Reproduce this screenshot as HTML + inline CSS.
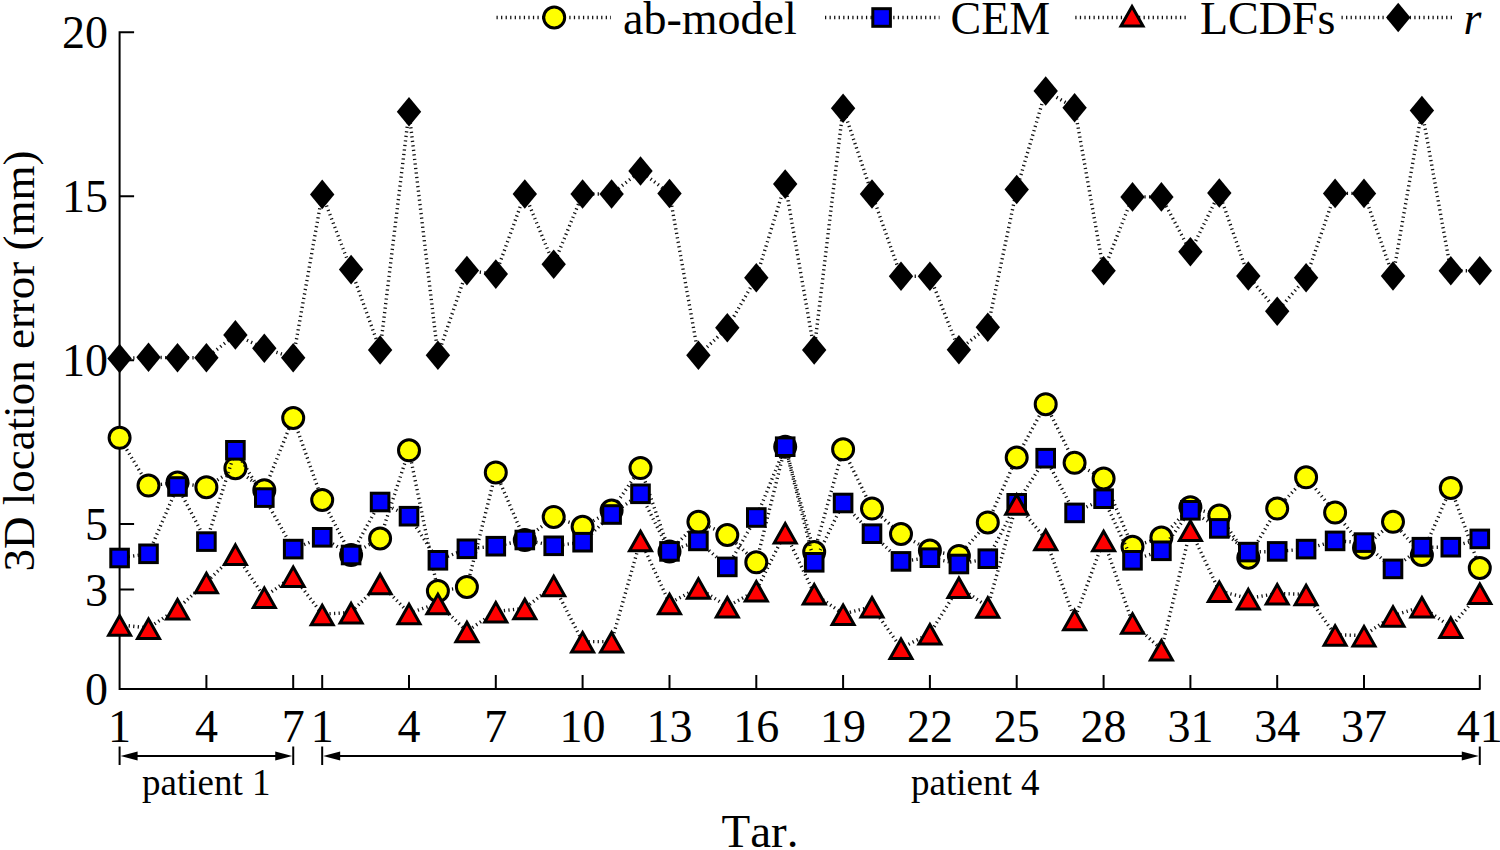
<!DOCTYPE html><html><head><meta charset="utf-8"><style>html,body{margin:0;padding:0;background:#fff;}svg{display:block;}text{font-family:"Liberation Serif",serif;fill:#000;font-kerning:none;}</style></head><body>
<svg width="1500" height="850" viewBox="0 0 1500 850">
<rect width="1500" height="850" fill="#fff"/>
<path d="M119.6 31.2V689H1480.6 M119.6 32.2H134.1 M119.6 196.2H134.1 M119.6 360.2H134.1 M119.6 523.9H134.1 M119.6 589.4H134.1 M206.4 689V675 M293.2 689V675 M322.2 689V675 M409.0 689V675 M495.8 689V675 M582.6 689V675 M669.5 689V675 M756.3 689V675 M843.1 689V675 M929.9 689V675 M1016.7 689V675 M1103.6 689V675 M1190.4 689V675 M1277.2 689V675 M1364.0 689V675 M1479.8 689V675" fill="none" stroke="#000" stroke-width="2"/>
<text x="108" y="47.7" font-size="46" text-anchor="end">20</text>
<text x="108" y="211.9" font-size="46" text-anchor="end">15</text>
<text x="108" y="376.1" font-size="46" text-anchor="end">10</text>
<text x="108" y="540.3" font-size="46" text-anchor="end">5</text>
<text x="108" y="606.0" font-size="46" text-anchor="end">3</text>
<text x="108" y="704.5" font-size="46" text-anchor="end">0</text>
<text x="119.6" y="742" font-size="46" text-anchor="middle">1</text>
<text x="206.4" y="742" font-size="46" text-anchor="middle">4</text>
<text x="293.2" y="742" font-size="46" text-anchor="middle">7</text>
<text x="322.2" y="742" font-size="46" text-anchor="middle">1</text>
<text x="409.0" y="742" font-size="46" text-anchor="middle">4</text>
<text x="495.8" y="742" font-size="46" text-anchor="middle">7</text>
<text x="582.6" y="742" font-size="46" text-anchor="middle">10</text>
<text x="669.5" y="742" font-size="46" text-anchor="middle">13</text>
<text x="756.3" y="742" font-size="46" text-anchor="middle">16</text>
<text x="843.1" y="742" font-size="46" text-anchor="middle">19</text>
<text x="929.9" y="742" font-size="46" text-anchor="middle">22</text>
<text x="1016.7" y="742" font-size="46" text-anchor="middle">25</text>
<text x="1103.6" y="742" font-size="46" text-anchor="middle">28</text>
<text x="1190.4" y="742" font-size="46" text-anchor="middle">31</text>
<text x="1277.2" y="742" font-size="46" text-anchor="middle">34</text>
<text x="1364.0" y="742" font-size="46" text-anchor="middle">37</text>
<text x="1479.8" y="742" font-size="46" text-anchor="middle">41</text>
<path d="M119.6 746.5V765M293.24 746.5V765M129.6 756H283.24" fill="none" stroke="#000" stroke-width="2"/><path d="M120.6 756l17 -4.5v9z M292.24 756l-17 -4.5v9z" fill="#000"/>
<path d="M322.18 746.5V765M1479.78 746.5V765M332.18 756H1469.78" fill="none" stroke="#000" stroke-width="2"/><path d="M323.18 756l17 -4.5v9z M1478.78 756l-17 -4.5v9z" fill="#000"/>
<text x="142" y="794.5" font-size="37">patient 1</text>
<text x="911" y="795" font-size="37">patient 4</text>
<text x="721.5" y="846.5" font-size="47">Tar.</text>
<text transform="translate(34 361) rotate(-90)" font-size="45" text-anchor="middle">3D location error (mm)</text>
<polyline points="119.6,437.8 148.5,485.6 177.5,482.6 206.4,487.2 235.4,468.2 264.3,490.2 293.2,418.0 322.2,500.0 351.1,555.0 380.1,538.5 409.0,450.3 437.9,591.0 466.9,587.0 495.8,472.4 524.8,540.0 553.7,516.9 582.6,526.8 611.6,510.6 640.5,468.1 669.5,551.4 698.4,521.8 727.3,535.0 756.3,562.3 785.2,446.7 814.2,552.0 843.1,449.3 872.0,508.6 901.0,534.0 929.9,550.6 958.9,555.9 987.8,522.4 1016.7,457.5 1045.7,404.2 1074.6,462.8 1103.6,478.5 1132.5,546.8 1161.4,537.6 1190.4,507.3 1219.3,515.5 1248.3,557.7 1277.2,508.6 1306.1,477.3 1335.1,512.6 1364.0,547.8 1393.0,521.8 1421.9,555.0 1450.8,487.9 1479.8,568.0" fill="none" stroke="#111" stroke-width="3.4" stroke-dasharray="1.25 3.3"/>
<g fill="#ffff00" stroke="#000" stroke-width="3"><circle cx="119.6" cy="437.8" r="10.5"/><circle cx="148.5" cy="485.6" r="10.5"/><circle cx="177.5" cy="482.6" r="10.5"/><circle cx="206.4" cy="487.2" r="10.5"/><circle cx="235.4" cy="468.2" r="10.5"/><circle cx="264.3" cy="490.2" r="10.5"/><circle cx="293.2" cy="418.0" r="10.5"/><circle cx="322.2" cy="500.0" r="10.5"/><circle cx="351.1" cy="555.0" r="10.5"/><circle cx="380.1" cy="538.5" r="10.5"/><circle cx="409.0" cy="450.3" r="10.5"/><circle cx="437.9" cy="591.0" r="10.5"/><circle cx="466.9" cy="587.0" r="10.5"/><circle cx="495.8" cy="472.4" r="10.5"/><circle cx="524.8" cy="540.0" r="10.5"/><circle cx="553.7" cy="516.9" r="10.5"/><circle cx="582.6" cy="526.8" r="10.5"/><circle cx="611.6" cy="510.6" r="10.5"/><circle cx="640.5" cy="468.1" r="10.5"/><circle cx="669.5" cy="551.4" r="10.5"/><circle cx="698.4" cy="521.8" r="10.5"/><circle cx="727.3" cy="535.0" r="10.5"/><circle cx="756.3" cy="562.3" r="10.5"/><circle cx="785.2" cy="446.7" r="10.5"/><circle cx="814.2" cy="552.0" r="10.5"/><circle cx="843.1" cy="449.3" r="10.5"/><circle cx="872.0" cy="508.6" r="10.5"/><circle cx="901.0" cy="534.0" r="10.5"/><circle cx="929.9" cy="550.6" r="10.5"/><circle cx="958.9" cy="555.9" r="10.5"/><circle cx="987.8" cy="522.4" r="10.5"/><circle cx="1016.7" cy="457.5" r="10.5"/><circle cx="1045.7" cy="404.2" r="10.5"/><circle cx="1074.6" cy="462.8" r="10.5"/><circle cx="1103.6" cy="478.5" r="10.5"/><circle cx="1132.5" cy="546.8" r="10.5"/><circle cx="1161.4" cy="537.6" r="10.5"/><circle cx="1190.4" cy="507.3" r="10.5"/><circle cx="1219.3" cy="515.5" r="10.5"/><circle cx="1248.3" cy="557.7" r="10.5"/><circle cx="1277.2" cy="508.6" r="10.5"/><circle cx="1306.1" cy="477.3" r="10.5"/><circle cx="1335.1" cy="512.6" r="10.5"/><circle cx="1364.0" cy="547.8" r="10.5"/><circle cx="1393.0" cy="521.8" r="10.5"/><circle cx="1421.9" cy="555.0" r="10.5"/><circle cx="1450.8" cy="487.9" r="10.5"/><circle cx="1479.8" cy="568.0" r="10.5"/></g>
<polyline points="119.6,558.0 148.5,553.8 177.5,486.5 206.4,541.6 235.4,450.3 264.3,497.6 293.2,549.1 322.2,537.3 351.1,555.0 380.1,502.0 409.0,516.2 437.9,560.3 466.9,548.8 495.8,546.2 524.8,540.0 553.7,545.8 582.6,542.2 611.6,514.5 640.5,493.8 669.5,551.4 698.4,540.9 727.3,566.9 756.3,517.5 785.2,446.7 814.2,562.3 843.1,503.0 872.0,533.7 901.0,561.4 929.9,557.7 958.9,564.0 987.8,558.7 1016.7,503.3 1045.7,458.2 1074.6,512.9 1103.6,498.7 1132.5,560.3 1161.4,550.8 1190.4,510.3 1219.3,528.4 1248.3,552.1 1277.2,551.4 1306.1,549.1 1335.1,540.9 1364.0,542.6 1393.0,568.9 1421.9,547.2 1450.8,547.2 1479.8,538.9" fill="none" stroke="#111" stroke-width="3.4" stroke-dasharray="1.25 3.3"/>
<g fill="#0000ff" stroke="#000" stroke-width="3"><rect x="110.8" y="549.2" width="17.6" height="17.6"/><rect x="139.7" y="545.0" width="17.6" height="17.6"/><rect x="168.7" y="477.7" width="17.6" height="17.6"/><rect x="197.6" y="532.8" width="17.6" height="17.6"/><rect x="226.6" y="441.5" width="17.6" height="17.6"/><rect x="255.5" y="488.8" width="17.6" height="17.6"/><rect x="284.4" y="540.3" width="17.6" height="17.6"/><rect x="313.4" y="528.5" width="17.6" height="17.6"/><rect x="342.3" y="546.2" width="17.6" height="17.6"/><rect x="371.3" y="493.2" width="17.6" height="17.6"/><rect x="400.2" y="507.4" width="17.6" height="17.6"/><rect x="429.1" y="551.5" width="17.6" height="17.6"/><rect x="458.1" y="540.0" width="17.6" height="17.6"/><rect x="487.0" y="537.4" width="17.6" height="17.6"/><rect x="516.0" y="531.2" width="17.6" height="17.6"/><rect x="544.9" y="537.0" width="17.6" height="17.6"/><rect x="573.8" y="533.4" width="17.6" height="17.6"/><rect x="602.8" y="505.7" width="17.6" height="17.6"/><rect x="631.7" y="485.0" width="17.6" height="17.6"/><rect x="660.7" y="542.6" width="17.6" height="17.6"/><rect x="689.6" y="532.1" width="17.6" height="17.6"/><rect x="718.5" y="558.1" width="17.6" height="17.6"/><rect x="747.5" y="508.7" width="17.6" height="17.6"/><rect x="776.4" y="437.9" width="17.6" height="17.6"/><rect x="805.4" y="553.5" width="17.6" height="17.6"/><rect x="834.3" y="494.2" width="17.6" height="17.6"/><rect x="863.2" y="524.9" width="17.6" height="17.6"/><rect x="892.2" y="552.6" width="17.6" height="17.6"/><rect x="921.1" y="548.9" width="17.6" height="17.6"/><rect x="950.1" y="555.2" width="17.6" height="17.6"/><rect x="979.0" y="549.9" width="17.6" height="17.6"/><rect x="1007.9" y="494.5" width="17.6" height="17.6"/><rect x="1036.9" y="449.4" width="17.6" height="17.6"/><rect x="1065.8" y="504.1" width="17.6" height="17.6"/><rect x="1094.8" y="489.9" width="17.6" height="17.6"/><rect x="1123.7" y="551.5" width="17.6" height="17.6"/><rect x="1152.6" y="542.0" width="17.6" height="17.6"/><rect x="1181.6" y="501.5" width="17.6" height="17.6"/><rect x="1210.5" y="519.6" width="17.6" height="17.6"/><rect x="1239.5" y="543.3" width="17.6" height="17.6"/><rect x="1268.4" y="542.6" width="17.6" height="17.6"/><rect x="1297.3" y="540.3" width="17.6" height="17.6"/><rect x="1326.3" y="532.1" width="17.6" height="17.6"/><rect x="1355.2" y="533.8" width="17.6" height="17.6"/><rect x="1384.2" y="560.1" width="17.6" height="17.6"/><rect x="1413.1" y="538.4" width="17.6" height="17.6"/><rect x="1442.0" y="538.4" width="17.6" height="17.6"/><rect x="1471.0" y="530.1" width="17.6" height="17.6"/></g>
<polyline points="119.6,624.8 148.5,628.0 177.5,608.6 206.4,582.3 235.4,553.9 264.3,597.1 293.2,576.0 322.2,614.2 351.1,612.4 380.1,583.2 409.0,613.2 437.9,603.3 466.9,631.3 495.8,611.6 524.8,608.3 553.7,585.2 582.6,641.6 611.6,641.6 640.5,540.2 669.5,603.3 698.4,587.7 727.3,606.6 756.3,590.5 785.2,532.5 814.2,593.5 843.1,614.0 872.0,606.6 901.0,648.0 929.9,633.5 958.9,587.0 987.8,606.7 1016.7,503.7 1045.7,539.3 1074.6,619.2 1103.6,540.2 1132.5,622.7 1161.4,649.5 1190.4,530.0 1219.3,591.0 1248.3,598.4 1277.2,593.5 1306.1,594.3 1335.1,634.8 1364.0,635.5 1393.0,615.7 1421.9,606.6 1450.8,626.9 1479.8,593.1" fill="none" stroke="#111" stroke-width="3.4" stroke-dasharray="1.25 3.3"/>
<g fill="#ff0000" stroke="#000" stroke-width="3" stroke-linejoin="miter"><path d="M119.6 615.8L130.6 635.3L108.6 635.3Z"/><path d="M148.5 619.0L159.5 638.5L137.5 638.5Z"/><path d="M177.5 599.6L188.5 619.1L166.5 619.1Z"/><path d="M206.4 573.3L217.4 592.8L195.4 592.8Z"/><path d="M235.4 544.9L246.4 564.4L224.4 564.4Z"/><path d="M264.3 588.1L275.3 607.6L253.3 607.6Z"/><path d="M293.2 567.0L304.2 586.5L282.2 586.5Z"/><path d="M322.2 605.2L333.2 624.7L311.2 624.7Z"/><path d="M351.1 603.4L362.1 622.9L340.1 622.9Z"/><path d="M380.1 574.2L391.1 593.7L369.1 593.7Z"/><path d="M409.0 604.2L420.0 623.7L398.0 623.7Z"/><path d="M437.9 594.3L448.9 613.8L426.9 613.8Z"/><path d="M466.9 622.3L477.9 641.8L455.9 641.8Z"/><path d="M495.8 602.6L506.8 622.1L484.8 622.1Z"/><path d="M524.8 599.3L535.8 618.8L513.8 618.8Z"/><path d="M553.7 576.2L564.7 595.7L542.7 595.7Z"/><path d="M582.6 632.6L593.6 652.1L571.6 652.1Z"/><path d="M611.6 632.6L622.6 652.1L600.6 652.1Z"/><path d="M640.5 531.2L651.5 550.7L629.5 550.7Z"/><path d="M669.5 594.3L680.5 613.8L658.5 613.8Z"/><path d="M698.4 578.7L709.4 598.2L687.4 598.2Z"/><path d="M727.3 597.6L738.3 617.1L716.3 617.1Z"/><path d="M756.3 581.5L767.3 601.0L745.3 601.0Z"/><path d="M785.2 523.5L796.2 543.0L774.2 543.0Z"/><path d="M814.2 584.5L825.2 604.0L803.2 604.0Z"/><path d="M843.1 605.0L854.1 624.5L832.1 624.5Z"/><path d="M872.0 597.6L883.0 617.1L861.0 617.1Z"/><path d="M901.0 639.0L912.0 658.5L890.0 658.5Z"/><path d="M929.9 624.5L940.9 644.0L918.9 644.0Z"/><path d="M958.9 578.0L969.9 597.5L947.9 597.5Z"/><path d="M987.8 597.7L998.8 617.2L976.8 617.2Z"/><path d="M1016.7 494.7L1027.7 514.2L1005.7 514.2Z"/><path d="M1045.7 530.3L1056.7 549.8L1034.7 549.8Z"/><path d="M1074.6 610.2L1085.6 629.7L1063.6 629.7Z"/><path d="M1103.6 531.2L1114.6 550.7L1092.6 550.7Z"/><path d="M1132.5 613.7L1143.5 633.2L1121.5 633.2Z"/><path d="M1161.4 640.5L1172.4 660.0L1150.4 660.0Z"/><path d="M1190.4 521.0L1201.4 540.5L1179.4 540.5Z"/><path d="M1219.3 582.0L1230.3 601.5L1208.3 601.5Z"/><path d="M1248.3 589.4L1259.3 608.9L1237.3 608.9Z"/><path d="M1277.2 584.5L1288.2 604.0L1266.2 604.0Z"/><path d="M1306.1 585.3L1317.1 604.8L1295.1 604.8Z"/><path d="M1335.1 625.8L1346.1 645.3L1324.1 645.3Z"/><path d="M1364.0 626.5L1375.0 646.0L1353.0 646.0Z"/><path d="M1393.0 606.7L1404.0 626.2L1382.0 626.2Z"/><path d="M1421.9 597.6L1432.9 617.1L1410.9 617.1Z"/><path d="M1450.8 617.9L1461.8 637.4L1439.8 637.4Z"/><path d="M1479.8 584.1L1490.8 603.6L1468.8 603.6Z"/></g>
<polyline points="119.6,358.5 148.5,357.3 177.5,357.8 206.4,357.8 235.4,334.9 264.3,348.3 293.2,357.8 322.2,194.4 351.1,269.6 380.1,350.0 409.0,111.8 437.9,355.3 466.9,270.6 495.8,274.1 524.8,194.0 553.7,264.3 582.6,194.0 611.6,194.0 640.5,171.0 669.5,193.5 698.4,355.3 727.3,327.8 756.3,277.7 785.2,184.1 814.2,350.0 843.1,108.2 872.0,194.0 901.0,276.3 929.9,276.3 958.9,349.7 987.8,327.2 1016.7,189.5 1045.7,91.0 1074.6,107.7 1103.6,270.7 1132.5,196.9 1161.4,196.9 1190.4,251.7 1219.3,193.0 1248.3,276.0 1277.2,311.3 1306.1,277.8 1335.1,193.4 1364.0,193.4 1393.0,276.0 1421.9,110.5 1450.8,270.7 1479.8,270.7" fill="none" stroke="#111" stroke-width="3.4" stroke-dasharray="1.25 3.3"/>
<g fill="#000"><path d="M119.6 343.7L131.8 358.5L119.6 373.3L107.4 358.5Z"/><path d="M148.5 342.5L160.7 357.3L148.5 372.1L136.3 357.3Z"/><path d="M177.5 343.0L189.7 357.8L177.5 372.6L165.3 357.8Z"/><path d="M206.4 343.0L218.6 357.8L206.4 372.6L194.2 357.8Z"/><path d="M235.4 320.1L247.6 334.9L235.4 349.7L223.2 334.9Z"/><path d="M264.3 333.5L276.5 348.3L264.3 363.1L252.1 348.3Z"/><path d="M293.2 343.0L305.4 357.8L293.2 372.6L281.0 357.8Z"/><path d="M322.2 179.6L334.4 194.4L322.2 209.2L310.0 194.4Z"/><path d="M351.1 254.8L363.3 269.6L351.1 284.4L338.9 269.6Z"/><path d="M380.1 335.2L392.3 350.0L380.1 364.8L367.9 350.0Z"/><path d="M409.0 97.0L421.2 111.8L409.0 126.6L396.8 111.8Z"/><path d="M437.9 340.5L450.1 355.3L437.9 370.1L425.7 355.3Z"/><path d="M466.9 255.8L479.1 270.6L466.9 285.4L454.7 270.6Z"/><path d="M495.8 259.3L508.0 274.1L495.8 288.9L483.6 274.1Z"/><path d="M524.8 179.2L537.0 194.0L524.8 208.8L512.6 194.0Z"/><path d="M553.7 249.5L565.9 264.3L553.7 279.1L541.5 264.3Z"/><path d="M582.6 179.2L594.8 194.0L582.6 208.8L570.4 194.0Z"/><path d="M611.6 179.2L623.8 194.0L611.6 208.8L599.4 194.0Z"/><path d="M640.5 156.2L652.7 171.0L640.5 185.8L628.3 171.0Z"/><path d="M669.5 178.7L681.7 193.5L669.5 208.3L657.3 193.5Z"/><path d="M698.4 340.5L710.6 355.3L698.4 370.1L686.2 355.3Z"/><path d="M727.3 313.0L739.5 327.8L727.3 342.6L715.1 327.8Z"/><path d="M756.3 262.9L768.5 277.7L756.3 292.5L744.1 277.7Z"/><path d="M785.2 169.3L797.4 184.1L785.2 198.9L773.0 184.1Z"/><path d="M814.2 335.2L826.4 350.0L814.2 364.8L802.0 350.0Z"/><path d="M843.1 93.4L855.3 108.2L843.1 123.0L830.9 108.2Z"/><path d="M872.0 179.2L884.2 194.0L872.0 208.8L859.8 194.0Z"/><path d="M901.0 261.5L913.2 276.3L901.0 291.1L888.8 276.3Z"/><path d="M929.9 261.5L942.1 276.3L929.9 291.1L917.7 276.3Z"/><path d="M958.9 334.9L971.1 349.7L958.9 364.5L946.7 349.7Z"/><path d="M987.8 312.4L1000.0 327.2L987.8 342.0L975.6 327.2Z"/><path d="M1016.7 174.7L1028.9 189.5L1016.7 204.3L1004.5 189.5Z"/><path d="M1045.7 76.2L1057.9 91.0L1045.7 105.8L1033.5 91.0Z"/><path d="M1074.6 92.9L1086.8 107.7L1074.6 122.5L1062.4 107.7Z"/><path d="M1103.6 255.9L1115.8 270.7L1103.6 285.5L1091.4 270.7Z"/><path d="M1132.5 182.1L1144.7 196.9L1132.5 211.7L1120.3 196.9Z"/><path d="M1161.4 182.1L1173.6 196.9L1161.4 211.7L1149.2 196.9Z"/><path d="M1190.4 236.9L1202.6 251.7L1190.4 266.5L1178.2 251.7Z"/><path d="M1219.3 178.2L1231.5 193.0L1219.3 207.8L1207.1 193.0Z"/><path d="M1248.3 261.2L1260.5 276.0L1248.3 290.8L1236.1 276.0Z"/><path d="M1277.2 296.5L1289.4 311.3L1277.2 326.1L1265.0 311.3Z"/><path d="M1306.1 263.0L1318.3 277.8L1306.1 292.6L1293.9 277.8Z"/><path d="M1335.1 178.6L1347.3 193.4L1335.1 208.2L1322.9 193.4Z"/><path d="M1364.0 178.6L1376.2 193.4L1364.0 208.2L1351.8 193.4Z"/><path d="M1393.0 261.2L1405.2 276.0L1393.0 290.8L1380.8 276.0Z"/><path d="M1421.9 95.7L1434.1 110.5L1421.9 125.3L1409.7 110.5Z"/><path d="M1450.8 255.9L1463.0 270.7L1450.8 285.5L1438.6 270.7Z"/><path d="M1479.8 255.9L1492.0 270.7L1479.8 285.5L1467.6 270.7Z"/></g>
<path d="M496.5 17.5H611" fill="none" stroke="#111" stroke-width="3.4" stroke-dasharray="1.25 3.3"/>
<g fill="#ffff00" stroke="#000" stroke-width="3"><circle cx="554.2" cy="17.5" r="10.5"/></g>
<text x="623" y="34" font-size="46">ab-model</text>
<path d="M825 17.5H939.5" fill="none" stroke="#111" stroke-width="3.4" stroke-dasharray="1.25 3.3"/>
<g fill="#0000ff" stroke="#000" stroke-width="3"><rect x="872.8" y="8.7" width="17.6" height="17.6"/></g>
<text x="950.5" y="34" font-size="46">CEM</text>
<path d="M1075.3 17.5H1189" fill="none" stroke="#111" stroke-width="3.4" stroke-dasharray="1.25 3.3"/>
<g fill="#ff0000" stroke="#000" stroke-width="3"><path d="M1132.0 6.5L1143.0 26.0L1121.0 26.0Z"/></g>
<text x="1200" y="34" font-size="46">LCDFs</text>
<path d="M1341.5 17.5H1455" fill="none" stroke="#111" stroke-width="3.4" stroke-dasharray="1.25 3.3"/>
<g fill="#000"><path d="M1398.2 2.7L1410.4 17.5L1398.2 32.3L1386.0 17.5Z"/></g>
<text x="1463.5" y="34" font-size="46" font-style="italic">r</text>
</svg></body></html>
